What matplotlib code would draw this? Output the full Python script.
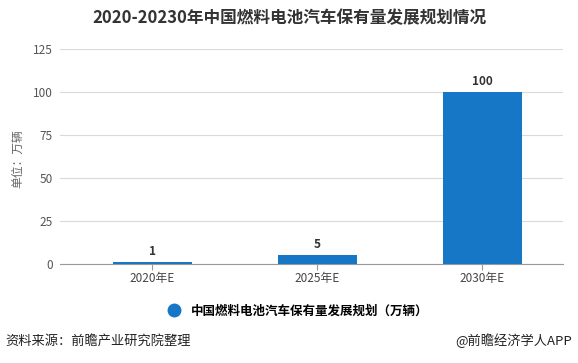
import matplotlib
matplotlib.use("Agg")
from matplotlib import pyplot as plt
from matplotlib.lines import Line2D

plt.rcParams['font.family'] = ['Noto Sans CJK SC', 'DejaVu Sans']

categories = ["2020年E", "2025年E", "2030年E"]
values = [1, 5, 100]
y_ticks = [0, 25, 50, 75, 100, 125]

title = "2020-20230年中国燃料电池汽车保有量发展规划情况"
series_name = "中国燃料电池汽车保有量发展规划（万辆）"
bar_color = "#1677c7"

fig = plt.figure(figsize=(5.78, 3.63), dpi=100)
ax = fig.add_axes([60 / 578, 1 - 264 / 363, (563 - 60) / 578, (264 - 49) / 363])

x = range(len(categories))
ax.bar(x, values, width=0.48, color=bar_color, zorder=3)
for i, v in zip(x, values):
    ax.text(i, v + 2.5, str(v), ha='center', va='bottom', fontsize=8.5,
            fontweight='bold', color='#333333')

ax.set_xlim(-0.56, 2.49)
ax.set_ylim(0, 125)
ax.set_yticks(y_ticks)
ax.set_yticklabels([str(t) for t in y_ticks], fontsize=8.5, color='#555555')
ax.set_xticks(list(x))
ax.set_xticklabels(categories, fontsize=8.5, color='#444444')
ax.yaxis.grid(True, color='#d9d9d9', linewidth=0.8, zorder=0)
ax.tick_params(axis='y', length=0, pad=5)
ax.tick_params(axis='x', length=4, color='#999999', pad=2)
for s in ['top', 'right', 'left']:
    ax.spines[s].set_visible(False)
ax.spines['bottom'].set_color('#999999')
ax.set_ylabel("单位：万辆", fontsize=8.5, color='#666666')
ax.yaxis.set_label_coords(-0.072, 0.49)

fig.text(0.5, 1 - 18 / 363, title, ha='center', va='center', fontsize=12,
         fontweight='bold', color='#333333')

handle = Line2D([], [], marker='o', linestyle='none', markersize=9,
                markerfacecolor=bar_color, markeredgecolor=bar_color)
fig.legend([handle], [series_name], loc='center', bbox_to_anchor=(0.51, 1 - 311 / 363),
           frameon=False, handletextpad=0.3,
           prop={'family': ['Noto Sans CJK SC', 'DejaVu Sans'], 'size': 9, 'weight': 'bold'})

fig.text(5 / 578, 1 - 341 / 363, "资料来源：前瞻产业研究院整理", ha='left', va='center',
         fontsize=9.5, color='#222222')
fig.text(572 / 578, 1 - 341 / 363, "@前瞻经济学人APP", ha='right', va='center',
         fontsize=9.5, color='#222222')

fig.savefig("out.png", dpi=100)
